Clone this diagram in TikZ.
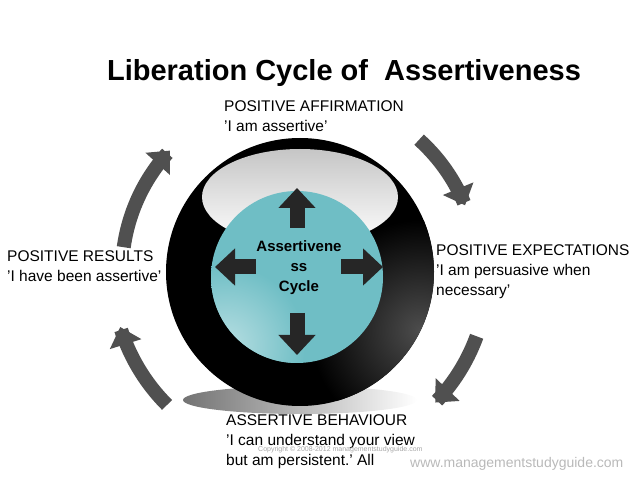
\documentclass[tikz,border=0pt]{standalone}
\usepackage{fontspec}
\setmainfont{Liberation Sans}
\usetikzlibrary{arrows.meta}
\definecolor{teal1}{HTML}{6FBEC5}
\definecolor{cyc}{HTML}{505050}
\definecolor{dk}{HTML}{262626}
\newcommand{\sq}{\symbol{39}}
\begin{document}
\begin{tikzpicture}[x=1pt,y=-1pt,
  lbl/.style={anchor=north west,align=left,font=\fontsize{15.5}{20}\selectfont,inner sep=0pt},
  cycarrow/.style={draw=cyc,line width=14pt,-{Triangle[width=32pt,length=18pt]}},
  inarrow/.style={draw=dk,line width=15pt,-{Triangle[width=36pt,length=20pt]}}]
\useasboundingbox (0,0) rectangle (638,478);
% shadow
\shade[left color=gray!90!black,right color=white] (300,400) ellipse[x radius=117,y radius=14];
% sphere
\fill[black] (300,272) circle[radius=134];
\begin{scope}
\clip (300,272) circle[radius=134];
\shade[inner color=gray!60!black,outer color=black] (420,330) circle[radius=110];
\end{scope}
% highlight
\shade[top color=gray!45,bottom color=white] (300,197) ellipse[x radius=98,y radius=48];
% teal
\fill[teal1] (297,277) circle[radius=86];
\begin{scope}
\clip (297,277) circle[radius=86];
\shade[inner color=teal1!50!white,outer color=teal1] (225,345) circle[radius=80];
\end{scope}
% inner arrows
\draw[inarrow] (297,228) -- (297,188);
\draw[inarrow] (256,267) -- (215,267);
\draw[inarrow] (341,267) -- (383,267);
\draw[inarrow] (297,313) -- (297,355);
\node[font=\bfseries\fontsize{15}{20}\selectfont,align=center] (ctr) at (299,268) {Assertivene\\ss\\Cycle};
% cycle arrows
\draw[cycarrow] plot[domain=172:137,samples=30] ({300+178*cos(\x)},{272-178*sin(\x)});
\draw[cycarrow] plot[domain=48:22,samples=30] ({300+178*cos(\x)},{272-178*sin(\x)});
\draw[cycarrow] plot[domain=-20:-44,samples=30] ({300+188*cos(\x)},{272-188*sin(\x)});
\draw[cycarrow] plot[domain=225:197,samples=30] ({300+188*cos(\x)},{272-188*sin(\x)});
% texts
\node[font=\bfseries\fontsize{29}{32}\selectfont] (title) at (344,73) {Liberation Cycle of\ \ Assertiveness};
\node[lbl] (top) at (224,100) {POSITIVE AFFIRMATION\\\sq I am assertive’};
\node[lbl] (left) at (7,250) {POSITIVE RESULTS\\\sq I have been assertive\sq};
\node[lbl] (right) at (436,244) {POSITIVE EXPECTATIONS\\\sq I am persuasive when\\necessary\sq};
\node[lbl] (bot) at (226,414) {ASSERTIVE BEHAVIOUR\\\sq I can understand your view\\but am persistent.\sq\ All};
\node[anchor=west,text=gray!55,font=\fontsize{14}{16}\selectfont,inner sep=0pt] (web) at (410,464) {www.managementstudyguide.com};
\node[anchor=west,text=gray!70,font=\fontsize{7}{8}\selectfont,inner sep=0pt] (copy) at (258,450) {Copyright © 2008-2012 managementstudyguide.com};
\end{tikzpicture}
\end{document}
